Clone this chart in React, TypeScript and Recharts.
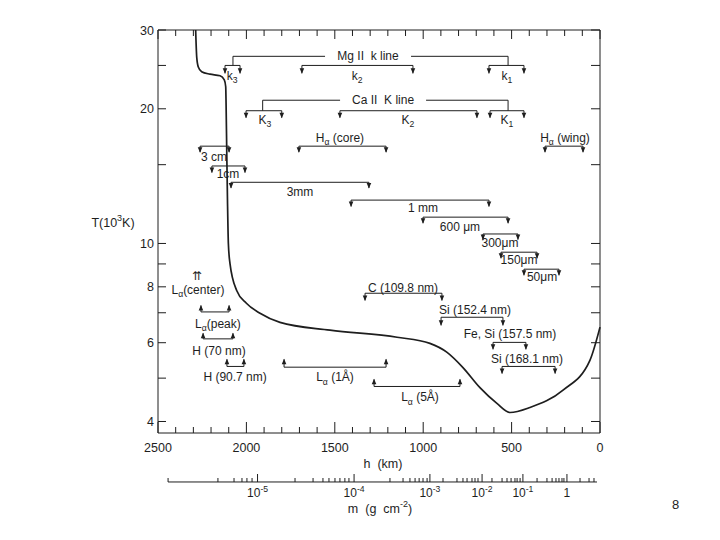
import React from "react";
import { ComposedChart, Line, Scatter, XAxis, YAxis, ReferenceLine } from "recharts";

const INK = "#1e1e1e";
const FONT = "'Liberation Sans', Arial, 'DejaVu Sans', sans-serif";

// temperature model: height (km) vs T (10^3 K)
const heightKm = [2287, 2281, 2272, 2253, 2206, 2149, 2125, 2117, 2115, 2111, 2107, 2102, 2093, 2055, 2000, 1923, 1810, 1527, 1148, 962, 865, 775, 679, 583, 509, 396, 209, 57, 0];
const tempKK = [30, 26.1, 24.8, 24.2, 23.9, 23.7, 23.2, 22.4, 20.6, 15.9, 12.5, 10, 9.03, 7.85, 7.35, 6.98, 6.66, 6.4, 6.17, 5.98, 5.71, 5.28, 4.76, 4.39, 4.19, 4.3, 4.7, 5.48, 6.5];

// axis ticks
const hTicks = [0, 100, 200, 300, 400, 500, 600, 700, 800, 900, 1000, 1100, 1200, 1300, 1400, 1500, 1600, 1700, 1800, 1900, 2000, 2100, 2200, 2300, 2400, 2500];
const tTicks = [4, 5, 6, 7, 8, 9, 10, 15, 20, 25, 30];
const tLabeled = [4, 6, 8, 10, 20, 30];

// column mass scale, tick positions given as heights
const massTickH = [2443, 2161, 2070, 2025, 1997, 1968, 1937, 1725, 1623, 1567, 1533, 1499, 1471, 1443, 1420, 1391, 1188, 1114, 1075, 1046, 1023, 1001, 978, 962, 888, 809, 775, 752, 724, 707, 690, 667, 611, 554, 526, 503, 481, 469, 452, 436, 356, 300, 271, 249, 232, 215, 204, 187, 113, 62, 34];
const massMajorH = [1937, 1391, 962, 667, 436, 187];
const massMajorLabel = ["10^{-5}", "10^{-4}", "10^{-3}", "10^{-2}", "10^{-1}", "1"];
const massSpan = [2443, 17];

// formation ranges: name, h from, h to, bar T, tip T, arrow
const brackets: [string, number, number, number, number, string][] = [
  ["MgII", 2076, 520, 26.2, 25.0, "none"],
  ["k3", 2121, 2036, 25.0, 24.0, "down"],
  ["k2", 1686, 1058, 25.0, 24.0, "down"],
  ["k1", 628, 430, 25.0, 24.0, "down"],
  ["CaII", 1908, 520, 20.9, 19.8, "none"],
  ["K3", 2002, 1800, 19.8, 19.1, "down"],
  ["K2", 1471, 696, 19.8, 19.1, "down"],
  ["K1", 622, 430, 19.8, 19.1, "down"],
  ["HaCore", 1703, 1210, 16.5, 16.0, "down"],
  ["HaWing", 311, 96, 16.5, 16.0, "down"],
  ["3cm", 2262, 2098, 16.5, 16.0, "down"],
  ["1cm", 2195, 2008, 14.9, 14.4, "down"],
  ["3mm", 2087, 1307, 13.7, 13.3, "down"],
  ["1mm", 1408, 628, 12.5, 12.1, "down"],
  ["600um", 1001, 520, 11.45, 11.1, "down"],
  ["300um", 662, 464, 10.5, 10.2, "down"],
  ["150um", 560, 356, 9.56, 9.27, "down"],
  ["50um", 430, 232, 8.76, 8.49, "down"],
  ["C1098", 1329, 894, 7.74, 7.46, "down"],
  ["Si1524", 899, 549, 6.84, 6.56, "down"],
  ["FeSi1575", 605, 419, 6.01, 5.8, "down"],
  ["Si1681", 554, 254, 5.31, 5.12, "down"],
  ["LaPeak", 2257, 2098, 7.03, 7.27, "up"],
  ["H70", 2245, 2076, 6.12, 6.3, "up"],
  ["H907", 2110, 2014, 5.31, 5.51, "up"],
  ["La1A", 1787, 1210, 5.29, 5.51, "up"],
  ["La5A", 1278, 792, 4.79, 4.97, "up"],
];

// annotation texts: text, h, T, white backing
const notes: [string, number, number, boolean][] = [
  ["Mg II  k line", 1312, 26.2, true],
  ["k_3", 2081, 23.7, false],
  ["k_2", 1374, 23.7, false],
  ["k_1", 526, 23.7, false],
  ["Ca II  K line", 1227, 20.9, true],
  ["K_3", 1895, 18.9, false],
  ["K_2", 1086, 18.9, false],
  ["K_1", 526, 18.9, false],
  ["H_α (core)", 1471, 17.2, false],
  ["H_α (wing)", 198, 17.2, false],
  ["3 cm", 2183, 15.6, false],
  ["1cm", 2104, 14.3, false],
  ["3mm", 1697, 13.0, false],
  ["1 mm", 1001, 12.0, false],
  ["600 μm", 792, 10.9, false],
  ["300μm", 566, 10.0, false],
  ["150μm", 458, 9.17, false],
  ["50μm", 328, 8.4, false],
  ["⇈", 2279, 8.45, false],
  ["L_α(center)", 2274, 7.86, false],
  ["C (109.8 nm)", 1114, 7.97, false],
  ["L_α(peak)", 2161, 6.6, false],
  ["H (70 nm)", 2155, 5.74, false],
  ["H (90.7 nm)", 2064, 5.02, false],
  ["L_α (1Å)", 1499, 5.02, false],
  ["L_α (5Å)", 1018, 4.53, false],
  ["Si (152.4 nm)", 707, 7.09, false],
  ["Fe, Si (157.5 nm)", 509, 6.27, false],
  ["Si (168.1 nm)", 413, 5.51, false],
];

const curveData = heightKm.map((h, i) => ({ h, T: tempKK[i] }));
const noteData = notes.map(([text, h, T, bg]) => ({ text, h, T, bg }));

// "_x" = subscript char, "^{..}" = superscript
function rich(s: string, fs: number) {
  const parts: { t: string; k: string }[] = [];
  let buf = "";
  let i = 0;
  while (i < s.length) {
    if (s[i] === "_") {
      if (buf) parts.push({ t: buf, k: "n" });
      buf = "";
      parts.push({ t: s[i + 1], k: "sub" });
      i += 2;
    } else if (s[i] === "^" && s[i + 1] === "{") {
      const j = s.indexOf("}", i);
      if (buf) parts.push({ t: buf, k: "n" });
      buf = "";
      parts.push({ t: s.slice(i + 2, j), k: "sup" });
      i = j + 1;
    } else {
      buf += s[i];
      i++;
    }
  }
  if (buf) parts.push({ t: buf, k: "n" });
  let cur = 0;
  return parts.map((p, k) => {
    const target = p.k === "sub" ? fs * 0.35 : p.k === "sup" ? -fs * 0.45 : 0;
    const dy = target - cur;
    cur = target;
    return (
      <tspan key={k} dy={dy} fontSize={p.k === "n" ? fs : fs * 0.72}>
        {p.t}
      </tspan>
    );
  });
}

const ArrowDot = (props: any) => {
  const { cx, cy, payload, index } = props;
  if (cx == null || !payload || !payload.arrow || payload.arrow === "none") return <g key={`a${index}`} />;
  const d =
    payload.arrow === "down"
      ? `M${cx - 2.3},${cy - 5} L${cx + 2.3},${cy - 5} L${cx},${cy + 0.5} Z`
      : `M${cx - 2.3},${cy + 5} L${cx + 2.3},${cy + 5} L${cx},${cy - 0.5} Z`;
  return <path key={`a${index}`} d={d} fill={INK} />;
};

const NoteShape = (props: any) => {
  const { cx, cy, payload } = props;
  const w = payload.text.length * 6;
  return (
    <g>
      {payload.bg && <rect x={cx - w / 2 - 4} y={cy - 7} width={w + 8} height={14} fill="#fff" />}
      <text x={cx} y={cy} textAnchor="middle" dominantBaseline="central" fontSize={12} fill={INK} fontFamily={FONT} style={{ whiteSpace: "pre" }}>
        {rich(payload.text, 12)}
      </text>
    </g>
  );
};

const BottomTick = (props: any) => {
  const { x, y, payload } = props;
  const major = payload.value % 500 === 0;
  return (
    <g>
      <line x1={x} x2={x} y1={y} y2={y - (major ? 11 : 6)} stroke={INK} />
      {major && (
        <text x={x} y={y + 19} textAnchor="middle" fontSize={12.5} fill={INK} fontFamily={FONT}>
          {payload.value}
        </text>
      )}
    </g>
  );
};

const TopTick = (props: any) => {
  const { x, y, payload } = props;
  const major = payload.value % 500 === 0;
  return <line x1={x} x2={x} y1={y} y2={y + (major ? 9 : 6)} stroke={INK} />;
};

const LeftTick = (props: any) => {
  const { x, y, payload } = props;
  return (
    <g>
      <line x1={x} x2={x + 8} y1={y} y2={y} stroke={INK} />
      {tLabeled.includes(payload.value) && (
        <text x={x - 4} y={y + 4.5} textAnchor="end" fontSize={12.5} fill={INK} fontFamily={FONT}>
          {payload.value}
        </text>
      )}
    </g>
  );
};

const RightTick = (props: any) => {
  const { x, y } = props;
  return <line x1={x} x2={x - 9} y1={y} y2={y} stroke={INK} />;
};

const MassTick = (props: any) => {
  const { x, y, payload } = props;
  const idx = massMajorH.indexOf(payload.value);
  return (
    <g>
      <line x1={x} x2={x} y1={y} y2={y - (idx >= 0 ? 8 : 4)} stroke={INK} />
      {idx >= 0 && (
        <text x={x} y={y + 15} textAnchor="middle" fontSize={12} fill={INK} fontFamily={FONT}>
          {rich(massMajorLabel[idx], 12)}
        </text>
      )}
    </g>
  );
};

const AxisTitle = (props: any) => {
  const { viewBox, text, dx, dy, anchor } = props;
  return (
    <text x={viewBox.x + dx} y={viewBox.y + dy} textAnchor={anchor || "middle"} fontSize={12.5} fill={INK} fontFamily={FONT} style={{ whiteSpace: "pre" }}>
      {rich(text, 12.5)}
    </text>
  );
};

export default function App() {
  return (
    <div style={{ position: "absolute", left: 0, top: 0, width: 720, height: 540, background: "#fff", fontFamily: FONT }}>
      <ComposedChart width={720} height={540} margin={{ top: 28, right: 118, bottom: 18, left: 98 }}>
        <XAxis
          dataKey="h"
          type="number"
          domain={[0, 2500]}
          reversed
          ticks={hTicks}
          interval={0}
          height={49}
          tickSize={0}
          tickMargin={0}
          tickLine={false}
          axisLine={{ stroke: INK }}
          tick={<BottomTick />}
          label={<AxisTitle text="h  (km)" dx={225} dy={35} />}
        />
        <XAxis
          xAxisId="m"
          dataKey="h"
          type="number"
          domain={[0, 2500]}
          reversed
          ticks={massTickH}
          interval={0}
          height={40}
          tickSize={0}
          tickMargin={0}
          tickLine={false}
          axisLine={false}
          tick={<MassTick />}
          label={<AxisTitle text="m  (g  cm^{-2})" dx={222} dy={31} />}
        />
        <XAxis
          xAxisId="top"
          orientation="top"
          dataKey="h"
          type="number"
          domain={[0, 2500]}
          reversed
          ticks={hTicks}
          interval={0}
          height={2}
          tickSize={0}
          tickMargin={0}
          tickLine={false}
          axisLine={{ stroke: INK }}
          tick={<TopTick />}
        />
        <YAxis
          dataKey="T"
          type="number"
          scale="log"
          domain={[3.77, 30]}
          allowDataOverflow
          ticks={tTicks}
          interval={0}
          width={60}
          tickSize={0}
          tickMargin={0}
          tickLine={false}
          axisLine={{ stroke: INK }}
          tick={<LeftTick />}
          label={<AxisTitle text="T(10^{3}K)" dx={15} dy={197} />}
        />
        <YAxis
          yAxisId="r"
          orientation="right"
          dataKey="T"
          type="number"
          scale="log"
          domain={[3.77, 30]}
          allowDataOverflow
          ticks={tTicks}
          interval={0}
          width={2}
          tickSize={0}
          tickMargin={0}
          tickLine={false}
          axisLine={{ stroke: INK }}
          tick={<RightTick />}
        />
        <ReferenceLine
          segment={[
            { x: massSpan[0], y: 2.93 },
            { x: massSpan[1], y: 2.93 },
          ]}
          ifOverflow="visible"
          stroke={INK}
        />
        {/* invisible copies so the frame axes get their scales */}
        <Line
          xAxisId="top"
          yAxisId="r"
          data={curveData}
          dataKey="T"
          stroke="none"
          dot={false}
          activeDot={false}
          legendType="none"
          isAnimationActive={false}
        />
        <Line
          xAxisId="m"
          data={curveData}
          dataKey="T"
          stroke="none"
          dot={false}
          activeDot={false}
          legendType="none"
          isAnimationActive={false}
        />
        {brackets.map(([name, h1, h2, bar, tip, arrow]) => (
          <Line
            key={name}
            data={[
              { h: h1, T: tip, arrow },
              { h: h1, T: bar },
              { h: h2, T: bar },
              { h: h2, T: tip, arrow },
            ]}
            dataKey="T"
            type="linear"
            stroke={INK}
            strokeWidth={1}
            dot={ArrowDot}
            activeDot={false}
            legendType="none"
            isAnimationActive={false}
          />
        ))}
        <Line
          data={curveData}
          dataKey="T"
          type="monotone"
          stroke={INK}
          strokeWidth={1.7}
          dot={false}
          activeDot={false}
          legendType="none"
          isAnimationActive={false}
        />
        <Scatter data={noteData} dataKey="T" shape={<NoteShape />} legendType="none" isAnimationActive={false} />
      </ComposedChart>
      <div style={{ position: "absolute", left: 672, top: 497, fontSize: 13, color: INK }}>8</div>
    </div>
  );
}
